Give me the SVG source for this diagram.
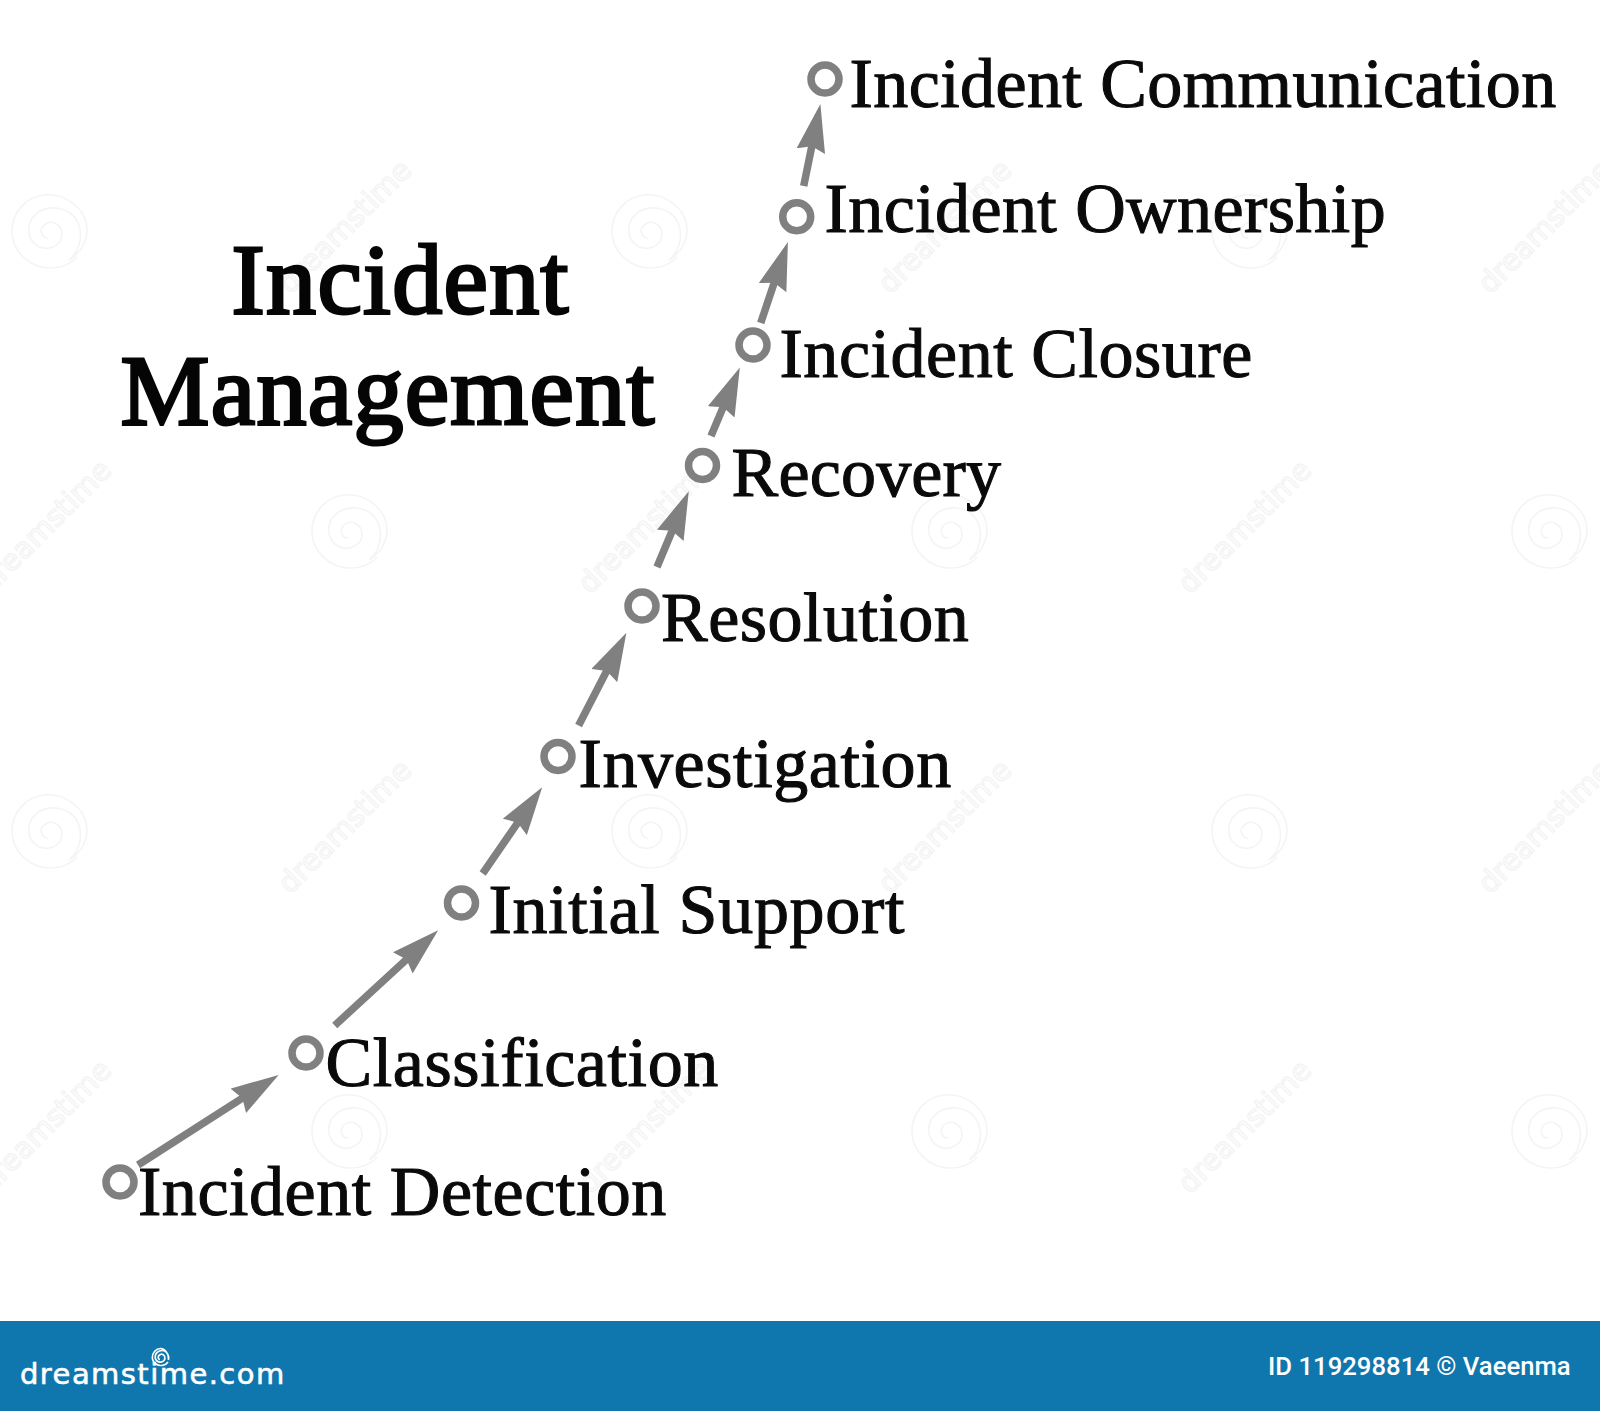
<svg xmlns="http://www.w3.org/2000/svg" width="1600" height="1411" viewBox="0 0 1600 1411">
<style>
.lbl{font-family:"Liberation Serif","Times New Roman",serif;font-size:70px;letter-spacing:.5px;fill:#0a0a0a;stroke:#0a0a0a;stroke-width:1.1px}
.ttl{font-family:"Liberation Serif","Times New Roman",serif;font-size:100px;letter-spacing:1.3px;fill:#050505;stroke:#050505;stroke-width:3px}
.dot{fill:#fff;stroke:#808080;stroke-width:7.5px}
.arr{stroke:#808080;stroke-width:7.5px;fill:none;marker-end:url(#head)}
.wmt{font-family:"DejaVu Sans",sans-serif;font-size:29px;fill:none;stroke:#f4f4f4;stroke-width:1.4px}
.wms{fill:none;stroke:#f4f4f4;stroke-width:1.6px}
</style>
<defs>
<marker id="head" markerUnits="userSpaceOnUse" markerWidth="48" markerHeight="29" viewBox="0 0 48 29" refX="16" refY="14.500" orient="auto"><path d="M0 0L48 14.500L0 29L5 14.500Z" fill="#808080"/></marker>
<path id="spiral" d="M-1 7C-8 7-10-2-5-6C2-12 13-7 13 3C13 14 1 20-9 16C-22 11-24-6-14-16C-3-27 18-25 27-12C35 1 32 19 20 29M20 29C32 22 41 8 37-9C32-26 14-38-5-36C-24-34-38-17-37 2C-36 21-19 37 1 37C12 37 22 33 28 26"/>
<path id="spiral-small" d="M-1 2.500C-3.500 2.500-3.500-2 0-2.800C3.500-3.200 5 1 3 3.500C0 6.500-5 5-5.800 1C-6.300-4-2-7 2-6.500C6-5.800 8.500-1 7.500 3M7.500 3C8-2 5-8 0-8.500C-5-8.800-9-4-8.700 1C-8.200 6-3 9.500 2 8.300C4 7.900 6 6.500 7 5"/>
</defs>
<rect width="1600" height="1411" fill="#fff"/>
<g id="watermark">
<g class="wms">
<use href="#spiral" x="49" y="231"/><use href="#spiral" x="649" y="231"/><use href="#spiral" x="1249" y="231"/>
<use href="#spiral" x="349" y="531"/><use href="#spiral" x="949" y="531"/><use href="#spiral" x="1549" y="531"/>
<use href="#spiral" x="49" y="831"/><use href="#spiral" x="649" y="831"/><use href="#spiral" x="1249" y="831"/>
<use href="#spiral" x="349" y="1131"/><use href="#spiral" x="949" y="1131"/><use href="#spiral" x="1549" y="1131"/>
</g>
<g class="wmt">
<text transform="translate(290,295) rotate(-45)">dreamstime</text><text transform="translate(890,295) rotate(-45)">dreamstime</text><text transform="translate(1490,295) rotate(-45)">dreamstime</text>
<text transform="translate(-10,595) rotate(-45)">dreamstime</text><text transform="translate(590,595) rotate(-45)">dreamstime</text><text transform="translate(1190,595) rotate(-45)">dreamstime</text>
<text transform="translate(290,895) rotate(-45)">dreamstime</text><text transform="translate(890,895) rotate(-45)">dreamstime</text><text transform="translate(1490,895) rotate(-45)">dreamstime</text>
<text transform="translate(-10,1195) rotate(-45)">dreamstime</text><text transform="translate(590,1195) rotate(-45)">dreamstime</text><text transform="translate(1190,1195) rotate(-45)">dreamstime</text>
</g>
</g>
<g id="connectors">
<line class="arr" x1="803.7" y1="186" x2="814" y2="135.400"/>
<line class="arr" x1="760.7" y1="323" x2="777.7" y2="272.400"/>
<line class="arr" x1="711" y1="436" x2="727.4" y2="397.100"/>
<line class="arr" x1="657" y1="567" x2="676.4" y2="520.700"/>
<line class="arr" x1="578.6" y1="725.5" x2="611.7" y2="661.300"/>
<line class="arr" x1="482.7" y1="873.5" x2="524" y2="813.700"/>
<line class="arr" x1="334.7" y1="1025.5" x2="414.6" y2="952"/>
<line class="arr" x1="138" y1="1165" x2="251.7" y2="1092.200"/>
</g>
<g id="title"><text class="ttl" x="231.500" y="313">Incident</text><text class="ttl" x="120.500" y="424">Management</text></g>
<g id="n-communication"><circle class="dot" cx="825" cy="79" r="14"/><text class="lbl" x="849.500" y="107" style="letter-spacing:.42px">Incident Communication</text></g>
<g id="n-ownership"><circle class="dot" cx="796.700" cy="216.700" r="14"/><text class="lbl" x="824.500" y="232" style="letter-spacing:.42px">Incident Ownership</text></g>
<g id="n-closure"><circle class="dot" cx="753" cy="345" r="14"/><text class="lbl" x="779.500" y="377" style="letter-spacing:.55px">Incident Closure</text></g>
<g id="n-recovery"><circle class="dot" cx="702.500" cy="465.500" r="14"/><text class="lbl" x="731.500" y="496" style="letter-spacing:.2px">Recovery</text></g>
<g id="n-resolution"><circle class="dot" cx="642" cy="606" r="14"/><text class="lbl" x="661" y="641" style="letter-spacing:.5px">Resolution</text></g>
<g id="n-investigation"><circle class="dot" cx="558" cy="756.500" r="14"/><text class="lbl" x="578.500" y="787" style="letter-spacing:.6px">Investigation</text></g>
<g id="n-support"><circle class="dot" cx="461.500" cy="903" r="14"/><text class="lbl" x="488.500" y="933" style="letter-spacing:.68px">Initial Support</text></g>
<g id="n-classification"><circle class="dot" cx="306" cy="1053" r="14"/><text class="lbl" x="325.500" y="1086" style="letter-spacing:.6px">Classification</text></g>
<g id="n-detection"><circle class="dot" cx="120" cy="1182" r="14"/><text class="lbl" x="138" y="1214.500" style="letter-spacing:.55px">Incident Detection</text></g>
<g id="footer">
<rect y="1321" width="1600" height="90" fill="#1077ae"/>
<text x="20" y="1384" font-family="DejaVu Sans,sans-serif" font-size="29" fill="#fff" stroke="#fff" stroke-width=".6" letter-spacing="1.45">dreamstime.com</text>
<use href="#spiral-small" x="161" y="1357" fill="none" stroke="#fff" stroke-width="1.6"/>
<text x="1268" y="1375" font-family="Roboto,sans-serif" font-weight="500" font-size="25.700" fill="#fff">ID 119298814 © Vaeenma</text>
</g>
</svg>
